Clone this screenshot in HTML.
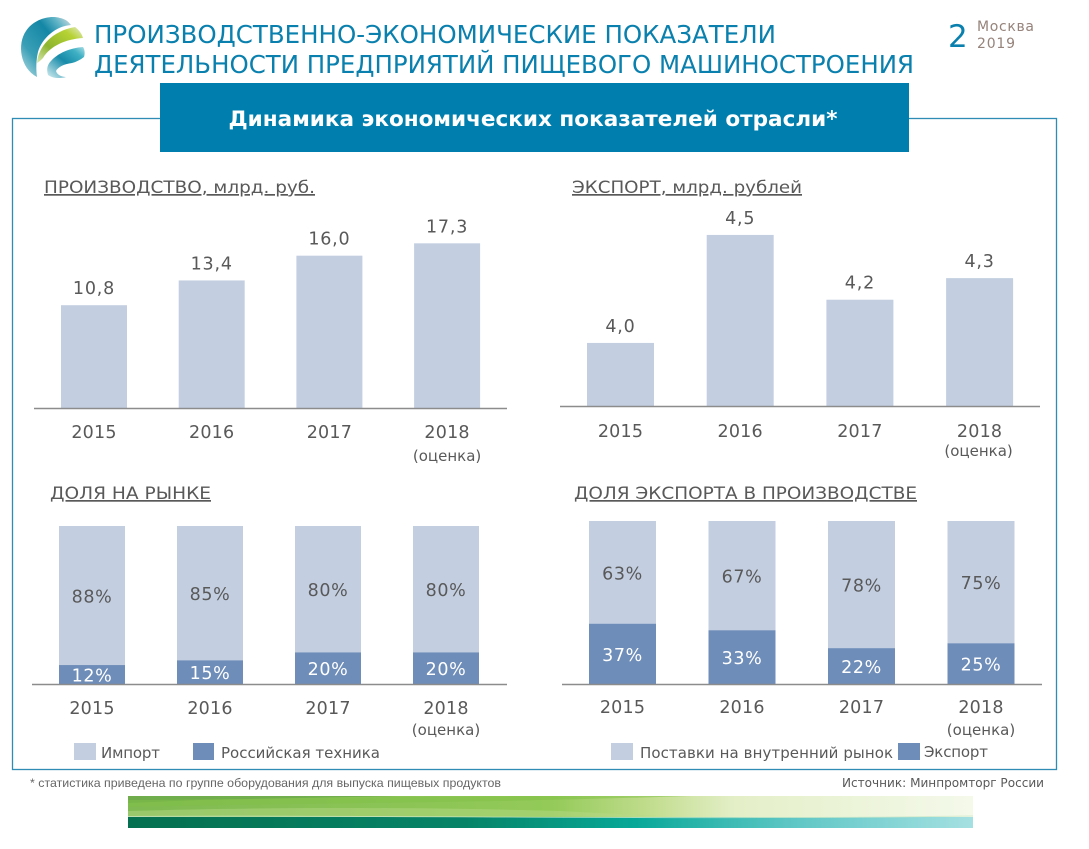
<!DOCTYPE html>
<html lang="ru">
<head>
<meta charset="utf-8">
<title>Динамика экономических показателей отрасли</title>
<style>
html,body{margin:0;padding:0;background:#fff;}
body{width:1089px;height:849px;overflow:hidden;position:relative;font-family:"DejaVu Sans","Liberation Sans",sans-serif;}
svg{position:absolute;left:0;top:0;}
text{font-family:"DejaVu Sans","Liberation Sans",sans-serif;}
</style>
</head>
<body>
<svg id="stage" width="1089" height="849" viewBox="0 0 1089 849" xmlns="http://www.w3.org/2000/svg">
  <defs>
    <linearGradient id="lg-a" x1="0" y1="1" x2="1" y2="0"><stop offset="0" stop-color="#bfe2e8"/><stop offset=".3" stop-color="#3a9fb6"/><stop offset=".65" stop-color="#1487a6"/><stop offset=".82" stop-color="#5fb4c6"/><stop offset="1" stop-color="#d8dde0"/></linearGradient>
    <linearGradient id="lg-b" x1="0" y1="1" x2="1" y2="0"><stop offset="0" stop-color="#d9e8b0"/><stop offset=".35" stop-color="#8db52f"/><stop offset=".75" stop-color="#b6d234"/><stop offset="1" stop-color="#e6ecd0"/></linearGradient>
    <linearGradient id="lg-c" x1="0" y1="1" x2="1" y2="0"><stop offset="0" stop-color="#d5eef1"/><stop offset=".5" stop-color="#178ba9"/><stop offset=".8" stop-color="#3fb0c4"/><stop offset="1" stop-color="#a8dde4"/></linearGradient>
    <linearGradient id="band-top" x1="0" y1="0" x2="1" y2="0"><stop offset="0" stop-color="#7fba52"/><stop offset=".5" stop-color="#93ca58"/><stop offset=".62" stop-color="#c2dd8f"/><stop offset=".72" stop-color="#e4efc8"/><stop offset="1" stop-color="#f4f9ea"/></linearGradient>
    <linearGradient id="band-bot" x1="0" y1="0" x2="1" y2="0"><stop offset="0" stop-color="#05704f"/><stop offset=".4" stop-color="#078468"/><stop offset=".6" stop-color="#07a898"/><stop offset=".78" stop-color="#5cc6c4"/><stop offset="1" stop-color="#a5e0e2"/></linearGradient>
  </defs>

  <g>
    <path d="M37 77 C20 68 17 44 26 31 C34 19 50 15 60 18 C65 19 68 21 71 25 C56 26 42 38 38 52 C36 60 36 70 37 77 Z" fill="url(#lg-a)"/>
    <path d="M37 63 C38 47 52 31 75 27 C79 30 82 34 83 38 C66 39 50 46 43 58 C41 60 39 62 37 63 Z" fill="url(#lg-b)"/>
    <path d="M48 75 C46 68 48 64 51 61 C58 53 70 48 83 47 C85 50 85 54 84 57 C80 60 76 62 72 63 C64 64 58 67 56 71 C57 75 62 77 66 77 C59 79 52 78 48 75 Z" fill="url(#lg-c)"/>
  </g>

  <text x="94" y="43" font-size="25" fill="#0a80ae" textLength="682" lengthAdjust="spacingAndGlyphs">ПРОИЗВОДСТВЕННО-ЭКОНОМИЧЕСКИЕ ПОКАЗАТЕЛИ</text>
  <text x="94" y="73" font-size="25" fill="#0a80ae" textLength="820" lengthAdjust="spacingAndGlyphs">ДЕЯТЕЛЬНОСТИ ПРЕДПРИЯТИЙ ПИЩЕВОГО МАШИНОСТРОЕНИЯ</text>
  <text x="948" y="47" font-size="31" fill="#0a80ae">2</text>
  <text x="977" y="31" font-size="14" fill="#96837b" textLength="57" lengthAdjust="spacing">Москва</text>
  <text x="977" y="48" font-size="14" fill="#96837b" textLength="38" lengthAdjust="spacing">2019</text>

  <rect x="12.5" y="118.5" width="1044" height="651" fill="#fff" stroke="#2f8db5" stroke-width="1.3"/>
  <rect x="160" y="83" width="749" height="69" fill="#007fae"/>
  <text x="533" y="126" font-size="21.5" font-weight="700" fill="#fff" text-anchor="middle" textLength="609" lengthAdjust="spacingAndGlyphs">Динамика экономических показателей отрасли*</text>

  <g id="charts"></g>

  <g>
    <rect x="74" y="743" width="22" height="17" fill="#c3cfe1"/>
    <text x="101" y="758" font-size="15" fill="#595959" textLength="59" lengthAdjust="spacing">Импорт</text>
    <rect x="193" y="743" width="21" height="17" fill="#6f8db9"/>
    <text x="221" y="758" font-size="15" fill="#595959" textLength="159" lengthAdjust="spacing">Российская техника</text>
  </g>
  <g>
    <rect x="611" y="743" width="22" height="17" fill="#c3cfe1"/>
    <text x="640" y="758" font-size="15" fill="#595959" textLength="253" lengthAdjust="spacing">Поставки на внутренний рынок</text>
    <rect x="898" y="743" width="22" height="17" fill="#6f8db9"/>
    <text x="924" y="757" font-size="15" fill="#595959" textLength="64" lengthAdjust="spacing">Экспорт</text>
  </g>

  <text x="30" y="787" font-size="12" fill="#666" style="font-family:'Liberation Sans',sans-serif" textLength="471" lengthAdjust="spacingAndGlyphs">* статистика приведена по группе оборудования для выпуска пищевых продуктов</text>
  <text x="1044" y="787" font-size="12" fill="#595959" text-anchor="end" textLength="202" lengthAdjust="spacingAndGlyphs">Источник: Минпромторг России</text>

  <g>
    <rect x="128" y="796" width="845" height="21" fill="url(#band-top)"/>
    <path d="M128 796 L400 796 L200 800 L128 803 Z" fill="#6aa64a" opacity=".7"/>
    <path d="M128 807 C300 803 480 803 690 796 L540 796 C400 797 250 799 128 800 Z" fill="#7fbf45" opacity=".5"/>
    <path d="M128 811 C300 806 450 808 560 811 L660 816 L128 816 Z" fill="#b9d98a" opacity=".45"/>
    <rect x="128" y="817" width="845" height="11" fill="url(#band-bot)"/>
    <path d="M128 816.5 C400 815 700 820 973 816" stroke="#cfe9c8" stroke-width="1" fill="none" opacity=".8"/>
  </g>
</svg>

<script>
var years = ['2015', '2016', '2017', '2018'];
var productionValues = [10.8, 13.4, 16.0, 17.3];
var exportValues = [4.0, 4.5, 4.2, 4.3];
var importShare = [88, 85, 80, 80];
var russianShare = [12, 15, 20, 20];
var domesticShare = [63, 67, 78, 75];
var exportShare = [37, 33, 22, 25];

var NS = 'http://www.w3.org/2000/svg';
var root = document.getElementById('charts');
var LIGHT = '#c3cfe1', DARK = '#6f8db9', INK = '#595959';

function mk(tag, attrs, parent, txt) {
  var el = document.createElementNS(NS, tag);
  for (var k in attrs) el.setAttribute(k, attrs[k]);
  if (txt !== undefined) el.textContent = txt;
  parent.appendChild(el);
  return el;
}
function comma(v) { return v.toFixed(1).replace('.', ','); }

function frame(slug, cfg) {
  var g = mk('g', {}, root);
  
  
  var t = mk('text', {x: cfg.titleX, y: cfg.titleY, 'font-size': 17, fill: INK, 'text-decoration': 'underline', textLength: cfg.titleW, lengthAdjust: 'spacingAndGlyphs'}, g, cfg.title);
  
  
  return g;
}
function bandX(cfg, i) { return cfg.firstBar + i * cfg.step; }

function axisAndYears(g, slug, cfg) {
  var line = mk('line', {x1: cfg.axisFrom, x2: cfg.axisTo, y1: cfg.base + 0.5, y2: cfg.base + 0.5, stroke: '#8c8c8c', 'stroke-width': 1.6}, g);
  
  
  years.forEach(function (yr, i) {
    var cx = bandX(cfg, i) + cfg.barW / 2;
    var lb = mk('text', {x: cx, y: cfg.yearY, 'font-size': 17.5, 'letter-spacing': 0.2, fill: INK, 'text-anchor': 'middle'}, g, yr);
    
    
    if (i === years.length - 1) {
      var note = mk('text', {x: cx + cfg.noteDx, y: cfg.yearY + cfg.noteDy, 'font-size': 15, fill: INK, 'text-anchor': 'middle'}, g, '(оценка)');
      
      
    }
  });
}

function simpleBars(slug, cfg, values, scale) {
  var g = frame(slug, cfg);
  values.forEach(function (v, i) {
    var x = bandX(cfg, i), h = scale(v), top = cfg.base - h;
    var r = mk('rect', {x: x, y: top, width: cfg.barW, height: h, fill: LIGHT}, g);
    
    
    var lb = mk('text', {x: x + cfg.barW / 2, y: top - 11, 'font-size': 17.5, 'letter-spacing': 0.8, fill: INK, 'text-anchor': 'middle'}, g, comma(v));
    
    
  });
  axisAndYears(g, slug, cfg);
}

function stackedBars(slug, cfg, upper, lower) {
  var g = frame(slug, cfg);
  function hOf(p) { return p / 100 * cfg.full; }
  upper.forEach(function (u, i) {
    var x = bandX(cfg, i), cx = x + cfg.barW / 2;
    var lh = hOf(lower[i]), uh = hOf(u), split = cfg.base - lh;
    var top = mk('rect', {x: x, y: split - uh, width: cfg.barW, height: uh, fill: LIGHT}, g);
    
    
    var bot = mk('rect', {x: x, y: split, width: cfg.barW, height: lh, fill: DARK}, g);
    
    
    var ut = mk('text', {x: cx, y: split - uh / 2 + 7, 'font-size': 17.5, 'letter-spacing': 0.6, fill: INK, 'text-anchor': 'middle'}, g, u + '%');
    
    
    var lt = mk('text', {x: cx, y: split + lh / 2 + 7, 'font-size': 17.5, 'letter-spacing': 0.6, fill: '#fff', 'text-anchor': 'middle'}, g, lower[i] + '%');
    
    
  });
  axisAndYears(g, slug, cfg);
}

simpleBars('production', {title: 'ПРОИЗВОДСТВО, млрд. руб.', titleX: 44, titleY: 193, titleW: 271, firstBar: 61, step: 117.7, barW: 66, base: 408, axisFrom: 34, axisTo: 507, yearY: 438, noteDx: 0, noteDy: 23}, productionValues, function (v) { return v * 9.52; });
simpleBars('export', {title: 'ЭКСПОРТ, млрд. рублей', titleX: 572, titleY: 193, titleW: 230, firstBar: 587, step: 119.7, barW: 67, base: 406, axisFrom: 560, axisTo: 1040, yearY: 437, noteDx: -1, noteDy: 19}, exportValues, function (v) { return (v - 3.708) * 216; });
stackedBars('market-share', {title: 'ДОЛЯ НА РЫНКЕ', titleX: 50, titleY: 499, titleW: 161, firstBar: 59, step: 118, barW: 66, base: 684, full: 158, axisFrom: 32, axisTo: 507, yearY: 714, noteDx: 0, noteDy: 21}, importShare, russianShare);
stackedBars('export-share', {title: 'ДОЛЯ ЭКСПОРТА В ПРОИЗВОДСТВЕ', titleX: 574, titleY: 499, titleW: 343, firstBar: 589, step: 119.5, barW: 67, base: 684, full: 163, axisFrom: 562, axisTo: 1042, yearY: 713, noteDx: 0, noteDy: 22}, domesticShare, exportShare);
</script>
</body>
</html>
